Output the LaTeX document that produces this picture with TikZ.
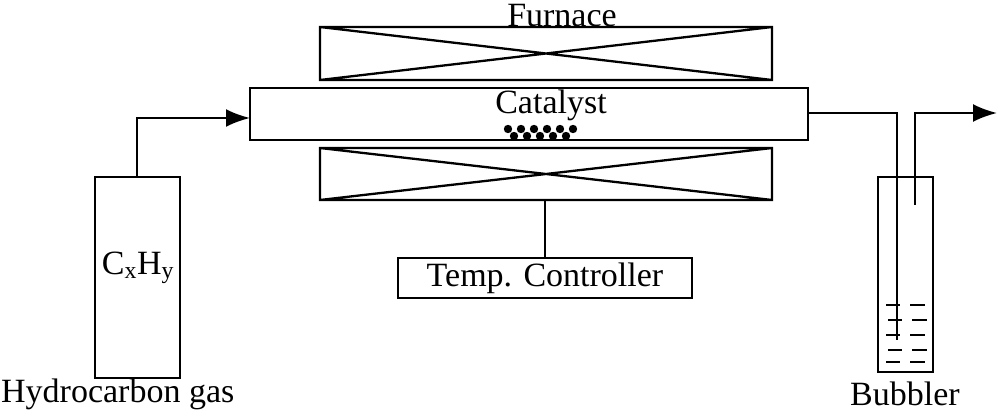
\documentclass[tikz,border=0pt]{standalone}
\usepackage{fontspec}
\setmainfont{Liberation Serif}
\usetikzlibrary{arrows.meta}
\begin{document}
\begin{tikzpicture}[x=1pt,y=-1pt,line width=2.3pt,
  lbl/.style={font=\fontsize{34}{40}\selectfont,inner sep=0pt},
  arr/.style={-{Latex[length=24pt,width=18pt]}}]
\useasboundingbox (0,0) rectangle (1002,417);
% furnace
\draw (320,27) rectangle (772,80) (320,27) -- (772,80) (320,80) -- (772,27);
\draw (320,148) rectangle (772,200) (320,148) -- (772,200) (320,200) -- (772,148);
\node[lbl] (furn) at (562,16) {Furnace};
% tube
\draw (250,88) rectangle (808,140);
\node[lbl] (cat) at (551,105) {Catalyst};
\foreach \x in {508,521,...,578} \fill (\x,129) circle (4.2);
\foreach \x in {514,527,...,572} \fill (\x,136) circle (4.2);
% controller
\node[draw,lbl,minimum height=40,minimum width=294] (tc) at (545,278) {Temp. Controller};
\coordinate (fb) at (545,200);
\draw (fb) -- (tc.north);
% cylinder
\draw (95,177) rectangle (180,378);
\node[lbl] (cxhy) at (138,268) {C\textsubscript{x}H\textsubscript{y}};
\coordinate (cyl) at (137,177);
\coordinate (tin) at (250,118);
\draw[arr] (cyl) -- (137,118) -- (tin);
\node[lbl,anchor=west] (hg) at (0,394) {Hydrocarbon gas};
% bubbler
\draw (878,177) rectangle (933,372);
\coordinate (tout) at (808,113);
\coordinate (bin) at (897,340);
\draw (tout) -- (897,113) -- (bin);
\coordinate (bout) at (915,205);
\coordinate (exit) at (997,113);
\draw[arr] (bout) -- (915,113) -- (exit);
\foreach \y/\a in {305/0,320/2,335/0,350/2,362/0}{
  \draw (886+\a,\y) -- (900+\a,\y);
  \draw (910+\a,\y) -- (925+\a,\y);}
\node[lbl] (bub) at (905,394) {Bubbler};
\end{tikzpicture}
\end{document}
